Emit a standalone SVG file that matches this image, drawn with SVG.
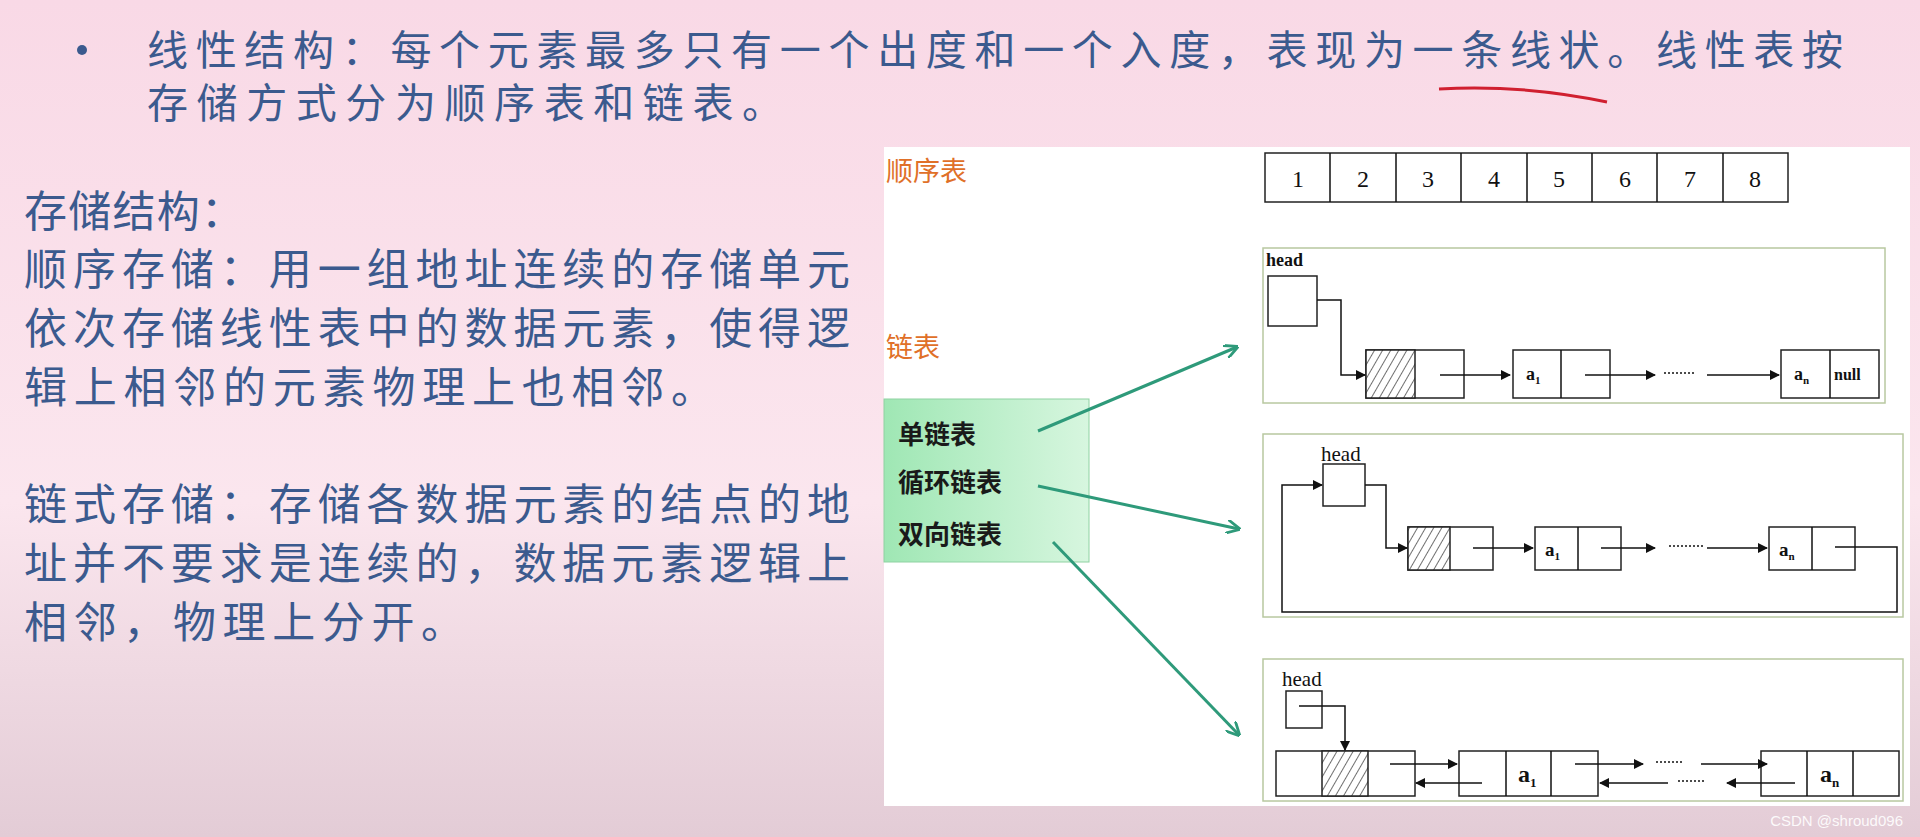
<svg xmlns="http://www.w3.org/2000/svg" width="1920" height="837" viewBox="0 0 1920 837">
<defs>
<linearGradient id="bg" x1="0" y1="0" x2="0" y2="1">
<stop offset="0" stop-color="#f9d9e6"/><stop offset="0.6" stop-color="#fbe6ee"/><stop offset="1" stop-color="#e3ccd6"/>
</linearGradient>
<linearGradient id="gb" x1="0" y1="0" x2="1" y2="0">
<stop offset="0" stop-color="#9fe7b4"/><stop offset="1" stop-color="#d7f6df"/>
</linearGradient>
<pattern id="hatch" width="7" height="7" patternUnits="userSpaceOnUse" patternTransform="rotate(30)">
<rect width="7" height="7" fill="#fff"/><line x1="0" y1="0" x2="0" y2="7" stroke="#222" stroke-width="1.3"/>
</pattern>
<marker id="ah" viewBox="0 0 10 10" refX="9" refY="5" markerWidth="10" markerHeight="10" orient="auto" markerUnits="userSpaceOnUse"><path d="M0,0L10,5L0,10z" fill="#111"/></marker>
<marker id="ga" viewBox="0 0 10 10" refX="9" refY="5" markerWidth="14" markerHeight="14" orient="auto" markerUnits="userSpaceOnUse"><path d="M0,0L10,5L0,10" fill="none" stroke="#2e9a7a" stroke-width="2"/></marker>
<style>
.t{font-family:"Noto Sans CJK SC","Noto Sans",sans-serif;fill:#3b5a8e}
.o{font-family:"Noto Sans CJK SC",sans-serif;fill:#e07028;font-size:27px}
.g{font-family:"Noto Sans CJK SC",sans-serif;fill:#1a1a1a;font-size:26px;font-weight:bold}
.c{fill:#fff;stroke:#222;stroke-width:1.5}
.n{font-family:"Liberation Serif",serif;fill:#111;font-size:24px;text-anchor:middle}
.s{font-family:"Liberation Serif",serif;fill:#111;font-weight:bold}
.fr{fill:#fff;stroke:#b8c8a0;stroke-width:1.5}
.l{fill:none;stroke:#111;stroke-width:1.5}
.d{fill:none;stroke:#111;stroke-width:1.5;stroke-dasharray:2 2}
.gr{stroke:#2e9a7a;stroke-width:3;fill:none}
</style>
</defs>
<rect width="1920" height="837" fill="url(#bg)"/>
<g id="title">
<circle cx="82" cy="50" r="5" fill="#3b5a8e"/>
<text class="t" x="147" y="65" font-size="41" textLength="1696">线性结构：每个元素最多只有一个出度和一个入度，表现为一条线状。线性表按</text>
<text class="t" x="147" y="118" font-size="41" textLength="636">存储方式分为顺序表和链表。</text>
<path d="M1439,89 Q1520,84 1607,102" stroke="#d02030" stroke-width="3" fill="none"/>
</g>
<g id="left" class="t" font-size="43">
<text x="24" y="227" textLength="220">存储结构：</text>
<text x="24" y="285" textLength="826">顺序存储：用一组地址连续的存储单元</text>
<text x="24" y="344" textLength="826">依次存储线性表中的数据元素，使得逻</text>
<text x="24" y="403" textLength="690">辑上相邻的元素物理上也相邻。</text>
<text x="24" y="520" textLength="826">链式存储：存储各数据元素的结点的地</text>
<text x="24" y="579" textLength="826">址并不要求是连续的，数据元素逻辑上</text>
<text x="24" y="638" textLength="440">相邻，物理上分开。</text>
</g>
<rect x="884" y="147" width="1026" height="659" fill="#fff"/>
<g id="labels">
<text class="o" x="886" y="181">顺序表</text>
<text class="o" x="886" y="357">链表</text>
</g>
<g id="seq">
<rect class="c" x="1265" y="153" width="523" height="49"/>
<g class="l"><path d="M1330,153V202M1396,153V202M1461,153V202M1527,153V202M1592,153V202M1657,153V202M1723,153V202"/></g>
<g class="n" font-size="28"><text x="1298" y="187">1</text><text x="1363" y="187">2</text><text x="1428" y="187">3</text><text x="1494" y="187">4</text><text x="1559" y="187">5</text><text x="1625" y="187">6</text><text x="1690" y="187">7</text><text x="1755" y="187">8</text></g>
</g>
<g id="types">
<rect x="884" y="399" width="205" height="163" fill="url(#gb)" stroke="#8fd2a2"/>
<text class="g" x="898" y="444">单链表</text>
<text class="g" x="898" y="492">循环链表</text>
<text class="g" x="898" y="544">双向链表</text>
</g>
<g id="single">
<rect class="fr" x="1263" y="248" width="622" height="155"/>
<text class="s" x="1266" y="266" font-size="18">head</text>
<rect class="c" x="1268" y="276" width="49" height="50"/>
<rect class="c" x="1366" y="350" width="98" height="48"/><rect x="1366" y="350" width="49" height="48" fill="url(#hatch)" stroke="#222" stroke-width="1.5"/>
<rect class="c" x="1513" y="350" width="97" height="48"/><path class="l" d="M1561,350V398"/>
<rect class="c" x="1781" y="350" width="98" height="48"/><path class="l" d="M1830,350V398"/>
<text class="s" x="1526" y="380" font-size="18">a<tspan font-size="11" dy="4">1</tspan></text>
<text class="s" x="1794" y="380" font-size="18">a<tspan font-size="11" dy="4">n</tspan></text>
<text class="s" x="1834" y="380" font-size="16">null</text>
</g>
<g id="circular">
<rect class="fr" x="1263" y="434" width="640" height="183" stroke="#9ccc9c"/>
<text x="1321" y="461" font-family="Liberation Serif,serif" font-size="21" fill="#111">head</text>
<rect class="c" x="1323" y="464" width="42" height="42"/>
<rect class="c" x="1408" y="527" width="85" height="43"/><rect x="1408" y="527" width="42" height="43" fill="url(#hatch)" stroke="#222" stroke-width="1.5"/>
<rect class="c" x="1535" y="527" width="86" height="43"/><path class="l" d="M1578,527V570"/>
<rect class="c" x="1769" y="527" width="86" height="43"/><path class="l" d="M1812,527V570"/>
<text class="s" x="1545" y="556" font-size="19">a<tspan font-size="11" dy="4">1</tspan></text>
<text class="s" x="1779" y="556" font-size="19">a<tspan font-size="11" dy="4">n</tspan></text>
</g>
<g id="double">
<rect class="fr" x="1263" y="659" width="640" height="142" stroke="#d4a8b4"/>
<text x="1282" y="686" font-family="Liberation Serif,serif" font-size="21" fill="#111">head</text>
<rect class="c" x="1286" y="691" width="36" height="37"/>
<rect class="c" x="1276" y="751" width="139" height="45"/><rect x="1322" y="751" width="46" height="45" fill="url(#hatch)" stroke="#222" stroke-width="1.5"/>
<rect class="c" x="1459" y="751" width="139" height="45"/><path class="l" d="M1506,751V796M1551,751V796"/>
<rect class="c" x="1761" y="751" width="138" height="45"/><path class="l" d="M1807,751V796M1853,751V796"/>
<text class="s" x="1518" y="782" font-size="24">a<tspan font-size="13" dy="5">1</tspan></text>
<text class="s" x="1820" y="782" font-size="24">a<tspan font-size="13" dy="5">n</tspan></text>
</g>
<g id="connectors">
<path class="l" d="M1317,300H1341V375H1365" marker-end="url(#ah)"/>
<path class="l" d="M1440,375H1510" marker-end="url(#ah)"/>
<path class="l" d="M1585,375H1655" marker-end="url(#ah)"/>
<path class="d" d="M1664,373H1696"/>
<path class="l" d="M1707,375H1779" marker-end="url(#ah)"/>
<path class="l" d="M1365,485H1386V548H1407" marker-end="url(#ah)"/>
<path class="l" d="M1473,548H1533" marker-end="url(#ah)"/>
<path class="l" d="M1601,548H1655" marker-end="url(#ah)"/>
<path class="d" d="M1669,546H1705"/>
<path class="l" d="M1707,548H1767" marker-end="url(#ah)"/>
<path class="l" d="M1835,547H1897V612H1282V485H1322" marker-end="url(#ah)"/>
<path class="l" d="M1299,706H1345V750" marker-end="url(#ah)"/>
<path class="l" stroke-width="2.5" d="M1390,764H1457" marker-end="url(#ah)"/>
<path class="l" stroke-width="2.5" d="M1482,783H1416" marker-end="url(#ah)"/>
<path class="l" stroke-width="2.5" d="M1575,764H1643" marker-end="url(#ah)"/>
<path class="d" d="M1656,762H1683"/>
<path class="l" stroke-width="2.5" d="M1701,764H1767" marker-end="url(#ah)"/>
<path class="l" stroke-width="2.5" d="M1795,783H1727" marker-end="url(#ah)"/>
<path class="d" d="M1678,781H1705"/>
<path class="l" stroke-width="2.5" d="M1668,783H1600" marker-end="url(#ah)"/>
<path class="gr" d="M1038,431L1237,347" marker-end="url(#ga)"/>
<path class="gr" d="M1038,486L1239,529" marker-end="url(#ga)"/>
<path class="gr" d="M1053,542L1239,735" marker-end="url(#ga)"/>
</g>
<text x="1903" y="826" font-family="Liberation Sans,sans-serif" font-size="15" fill="#fff" text-anchor="end" opacity="0.9">CSDN @shroud096</text>
</svg>
